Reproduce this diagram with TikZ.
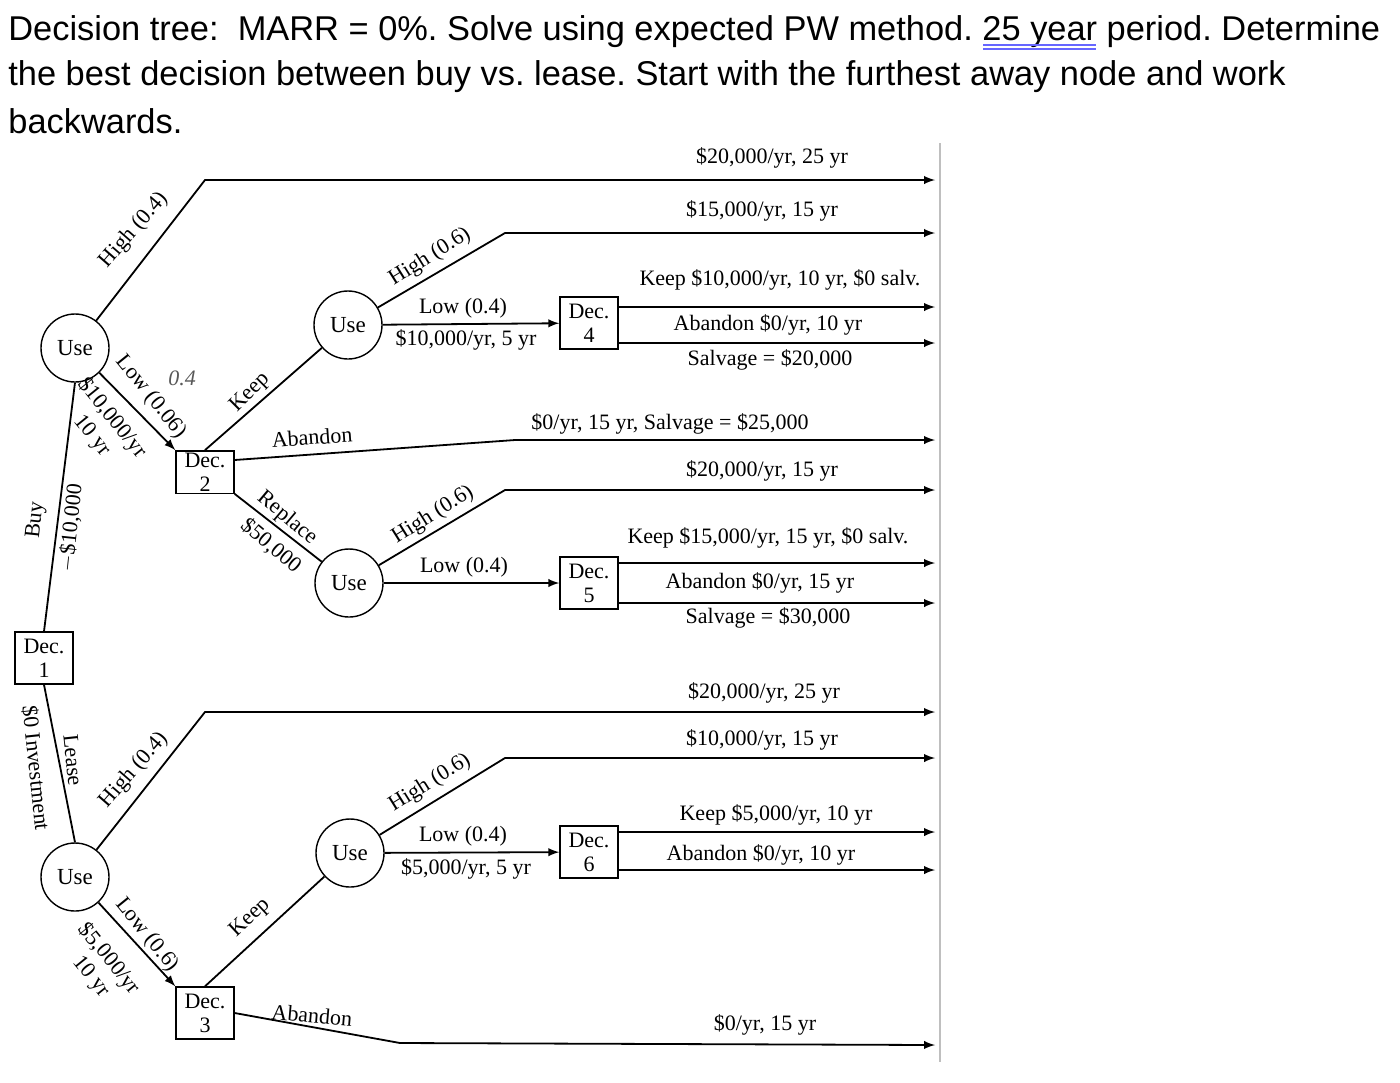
\documentclass[tikz,border=0pt]{standalone}
\usepackage{fontspec}
\setmainfont{Liberation Serif}
\newfontfamily\titlefont{Liberation Sans}
\begin{document}
\begin{tikzpicture}[x=0.5pt,y=-0.5pt,
  ln/.style={line width=0.9pt},
  ar/.style={ln,-latex},
  dbox/.style={draw,line width=0.7pt,minimum width=29pt,minimum height=26pt,inner sep=1pt,align=center,font=\fontsize{11}{12}\selectfont},
  chance/.style={draw,circle,line width=0.7pt,minimum size=34pt,inner sep=0pt,font=\fontsize{11.5}{12}\selectfont},
  lbl/.style={font=\fontsize{11}{12}\selectfont,inner sep=1pt},
  ttl/.style={font=\titlefont\frenchspacing\fontsize{17.2}{20}\selectfont,anchor=west,inner sep=0pt}]
\useasboundingbox (0,0) rectangle (1400,1082);
\node[ttl] (t1) at (8,32) {Decision tree:\ \ MARR = 0\%. Solve using expected PW method. 25 year period. Determine};
\node[ttl] (t2) at (8,77) {the best decision between buy vs. lease. Start with the furthest away node and work};
\node[ttl] (t3) at (8,121) {backwards.};
\draw[blue!60,line width=0.6pt] (983,45) -- (1096,45) (983,49) -- (1096,49);
\draw[gray!50,line width=0.8pt] (940,143) -- (940,1062);
% nodes
\node[dbox] (d1) at (44,658) {Dec.\\1};
\node[chance] (u1) at (75,348) {Use};
\node[dbox,minimum height=17pt] (d2) at (205,472) {Dec.\\2};
\node[chance] (u2) at (348,325) {Use};
\node[dbox] (d4) at (589,323) {Dec.\\4};
\node[chance] (u3) at (349,583) {Use};
\node[dbox] (d5) at (589,583) {Dec.\\5};
\node[chance] (u4) at (75,877) {Use};
\node[dbox] (d3) at (205,1013) {Dec.\\3};
\node[chance] (u5) at (350,853) {Use};
\node[dbox] (d6) at (589,852) {Dec.\\6};
% end coordinates
\coordinate (e1) at (935,180); \coordinate (k1) at (205,180);
\coordinate (e2) at (935,233); \coordinate (k2) at (505,233);
\coordinate (e4a) at (935,307); \coordinate (e4b) at (935,343);
\coordinate (e5) at (935,440); \coordinate (k5) at (515,440);
\coordinate (e6) at (935,490); \coordinate (k6) at (505,490);
\coordinate (e7a) at (935,563); \coordinate (e7b) at (935,603);
\coordinate (e8) at (935,712); \coordinate (k8) at (205,712);
\coordinate (e9) at (935,758); \coordinate (k9) at (505,758);
\coordinate (e10a) at (935,832); \coordinate (e10b) at (935,870);
\coordinate (e11) at (935,1045); \coordinate (k11) at (400,1043);
% connectors
\draw[ln] (d1.north) -- (u1.south);
\draw[ln] (d1.south) -- (u4.north);
\draw[ar] (u1) -- (k1) -- (e1);
\draw[ar] (u1) -- (d2.north west);
\draw[ln] (d2.north) -- (u2);
\draw[ar] (u2) -- (k2) -- (e2);
\draw[ar] (u2) -- (d4);
\draw[ar] (d4.east |- e4a) -- (e4a);
\draw[ar] (d4.east |- e4b) -- (e4b);
\draw[ar] (d2.east) ++(0,-12) -- (k5) -- (e5);
\draw[ln] (d2.south east) -- (u3);
\draw[ar] (u3) -- (k6) -- (e6);
\draw[ar] (u3) -- (d5);
\draw[ar] (d5.east |- e7a) -- (e7a);
\draw[ar] (d5.east |- e7b) -- (e7b);
\draw[ar] (u4) -- (k8) -- (e8);
\draw[ar] (u4) -- (d3.north west);
\draw[ln] (d3.north) -- (u5);
\draw[ar] (u5) -- (k9) -- (e9);
\draw[ar] (u5) -- (d6);
\draw[ar] (d6.east |- e10a) -- (e10a);
\draw[ar] (d6.east |- e10b) -- (e10b);
\draw[ar] (d3.east) -- (k11) -- (e11);
% labels
\node[lbl,rotate=84] (lb1) at (36,520) {Buy};
\node[lbl,rotate=84] (lb2) at (71,528) {$-$\$10,000};
\node[lbl,rotate=-84] (lb3) at (73,760) {Lease};
\node[lbl,rotate=-84] (lb4) at (36,768) {\$0 Investment};
\node[lbl,rotate=49] (lb5) at (134,230) {High (0.4)};
\node[lbl,rotate=-51] (lb6) at (151,397) {Low (0.06)};
\node[lbl,rotate=-51] (lb7) at (112,418) {\$10,000/yr};
\node[lbl,rotate=-51] (lb7b) at (92,436) {10 yr};
\node[font=\fontsize{11}{11}\selectfont\itshape,text=gray!70!black] (hw) at (182,378) {0.4};
\node[lbl,rotate=45] (lb8) at (250,393) {Keep};
\node[lbl,rotate=4] (lb9) at (312,437) {Abandon};
\node[lbl,rotate=-40] (lb10) at (287,518) {Replace};
\node[lbl,rotate=-40] (lb11) at (271,546) {\$50,000};
\node[lbl,rotate=32] (lb12) at (430,257) {High (0.6)};
\node[lbl] (lb13) at (463,308) {Low (0.4)};
\node[lbl] (lb14) at (466,340) {\$10,000/yr, 5 yr};
\node[lbl,rotate=32] (lb15) at (433,515) {High (0.6)};
\node[lbl] (lb16) at (464,567) {Low (0.4)};
\node[lbl,rotate=49] (lb17) at (134,770) {High (0.4)};
\node[lbl,rotate=-51] (lb18) at (147,935) {Low (0.6)};
\node[lbl,rotate=-51] (lb19) at (109,959) {\$5,000/yr};
\node[lbl,rotate=-51] (lb19b) at (91,977) {10 yr};
\node[lbl,rotate=43] (lb20) at (250,918) {Keep};
\node[lbl,rotate=-5] (lb21) at (312,1015) {Abandon};
\node[lbl,rotate=32] (lb22) at (430,783) {High (0.6)};
\node[lbl] (lb23) at (463,836) {Low (0.4)};
\node[lbl] (lb24) at (466,869) {\$5,000/yr, 5 yr};
\node[lbl] (r1) at (772,158) {\$20,000/yr, 25 yr};
\node[lbl] (r2) at (762,211) {\$15,000/yr, 15 yr};
\node[lbl] (r3) at (780,280) {Keep \$10,000/yr, 10 yr, \$0 salv.};
\node[lbl] (r4) at (768,325) {Abandon \$0/yr, 10 yr};
\node[lbl] (r5) at (770,360) {Salvage = \$20,000};
\node[lbl] (r6) at (670,424) {\$0/yr, 15 yr, Salvage = \$25,000};
\node[lbl] (r7) at (762,471) {\$20,000/yr, 15 yr};
\node[lbl] (r8) at (768,538) {Keep \$15,000/yr, 15 yr, \$0 salv.};
\node[lbl] (r9) at (760,583) {Abandon \$0/yr, 15 yr};
\node[lbl] (r10) at (768,618) {Salvage = \$30,000};
\node[lbl] (r11) at (764,693) {\$20,000/yr, 25 yr};
\node[lbl] (r12) at (762,740) {\$10,000/yr, 15 yr};
\node[lbl] (r13) at (776,815) {Keep \$5,000/yr, 10 yr};
\node[lbl] (r14) at (761,855) {Abandon \$0/yr, 10 yr};
\node[lbl] (r15) at (765,1025) {\$0/yr, 15 yr};
\end{tikzpicture}
\end{document}
